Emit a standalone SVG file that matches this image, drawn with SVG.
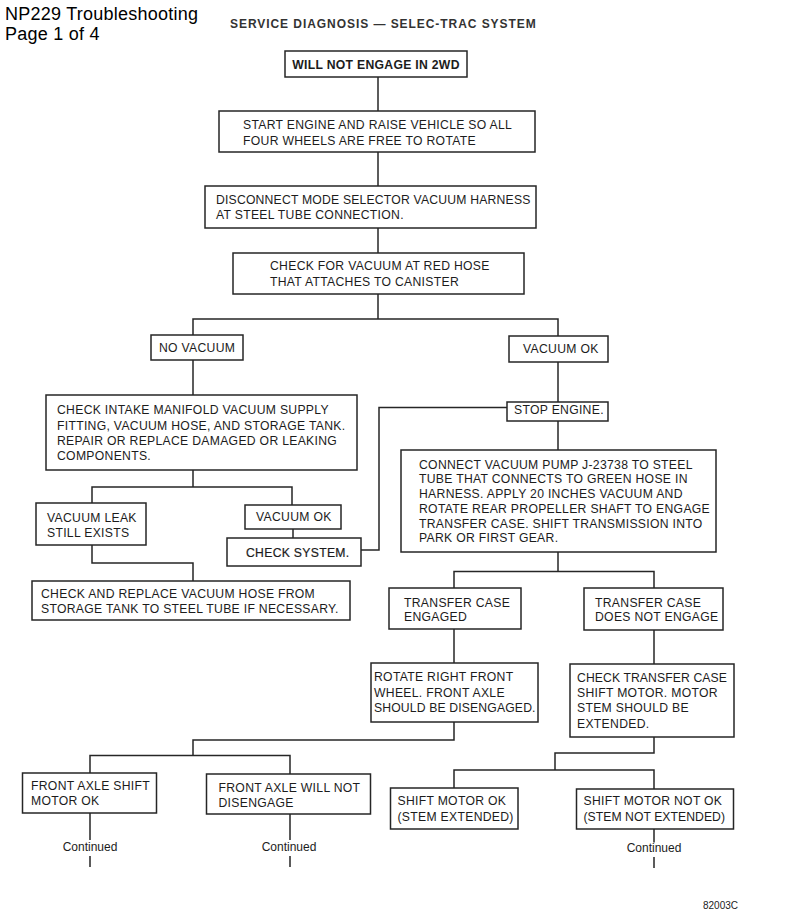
<svg xmlns="http://www.w3.org/2000/svg" width="787" height="915" viewBox="0 0 787 915">
<style>
.bg{fill:#fff}
.box{fill:#fff;stroke:#262626;stroke-width:1.5}
.t{font-family:"Liberation Sans",Arial,Helvetica,sans-serif;font-size:12.2px;fill:#1c1c1c;letter-spacing:0.3px}
.b{font-weight:bold}
.hd{font-family:"Liberation Sans",Arial,Helvetica,sans-serif;font-size:18px;fill:#000;letter-spacing:0.25px}
.cn{font-family:"Liberation Sans",Arial,Helvetica,sans-serif;font-size:12px;fill:#1c1c1c;text-anchor:middle}
.c path{fill:none;stroke:#262626;stroke-width:1.5}
</style>
<rect class="bg" x="0" y="0" width="787" height="915"/>
<text class="hd" x="5" y="20">NP229 Troubleshooting</text>
<text class="hd" x="5" y="40.3">Page 1 of 4</text>
<text class="t b" x="230" y="28" textLength="306" lengthAdjust="spacing" style="font-size:12px;fill:#333">SERVICE DIAGNOSIS — SELEC-TRAC SYSTEM</text>

<g id="connectors" class="c">
<path d="M378,77 V111"/>
<path d="M378,152 V186"/>
<path d="M378,228 V253"/>
<path d="M378,294 V319"/>
<path d="M193,335 V319 H558 V336"/>
<path d="M558,362 V402"/>
<path d="M558,421 V450"/>
<path d="M193,360 V395"/>
<path d="M193,470 V487"/>
<path d="M92,503 V487 H292 V505"/>
<path d="M293,529 V538"/>
<path d="M361,550 H379 V407.5 H507"/>
<path d="M92,545 V563 H193 V581"/>
<path d="M558,552 V571.5"/>
<path d="M454,588 V571.5 H654 V588"/>
<path d="M454,629 V663"/>
<path d="M654,630 V664"/>
<path d="M454,722 V740 H193 V755.5"/>
<path d="M90,773 V755.5 H290 V774"/>
<path d="M654,737 V753 H555 V770"/>
<path d="M454,788 V770 H654 V789"/>
<path d="M90,813 V840 M90,856 V867"/>
<path d="M290,814 V840 M290,856 V867"/>
<path d="M654,829 V842.5 M654,857 V868"/>
</g>

<g id="n1"><rect class="box" x="285" y="51" width="182" height="26"/><text class="t b" x="376" y="68.5" text-anchor="middle">WILL NOT ENGAGE IN 2WD</text></g>
<g id="n2"><rect class="box" x="219" y="111" width="316" height="41"/><text class="t" x="243" y="128.5">START ENGINE AND RAISE VEHICLE SO ALL</text><text class="t" x="243" y="144.5">FOUR WHEELS ARE FREE TO ROTATE</text></g>
<g id="n3"><rect class="box" x="205" y="186" width="331" height="42"/><text class="t" x="216" y="204" style="letter-spacing:0.2px">DISCONNECT MODE SELECTOR VACUUM HARNESS</text><text class="t" x="216" y="218.5">AT STEEL TUBE CONNECTION.</text></g>
<g id="n4"><rect class="box" x="233" y="253" width="291" height="41"/><text class="t" x="270" y="270">CHECK FOR VACUUM AT RED HOSE</text><text class="t" x="270" y="286">THAT ATTACHES TO CANISTER</text></g>
<g id="n5"><rect class="box" x="151" y="335" width="92" height="25"/><text class="t" x="159" y="352">NO VACUUM</text></g>
<g id="n6"><rect class="box" x="509" y="336" width="99" height="26"/><text class="t" x="523" y="353">VACUUM OK</text></g>
<g id="n7"><rect class="box" x="46" y="395" width="311" height="75"/><text class="t" x="57" y="414">CHECK INTAKE MANIFOLD VACUUM SUPPLY</text><text class="t" x="57" y="429.5">FITTING, VACUUM HOSE, AND STORAGE TANK.</text><text class="t" x="57" y="444.5">REPAIR OR REPLACE DAMAGED OR LEAKING</text><text class="t" x="57" y="459.5">COMPONENTS.</text></g>
<g id="n8"><rect class="box" x="507" y="402" width="101" height="19"/><text class="t" x="514" y="414">STOP ENGINE.</text></g>
<g id="n9"><rect class="box" x="401" y="450" width="315" height="102"/><text class="t" x="419" y="468.5">CONNECT VACUUM PUMP J-23738 TO STEEL</text><text class="t" x="419" y="483">TUBE THAT CONNECTS TO GREEN HOSE IN</text><text class="t" x="419" y="497.7">HARNESS. APPLY 20 INCHES VACUUM AND</text><text class="t" x="419" y="513">ROTATE REAR PROPELLER SHAFT TO ENGAGE</text><text class="t" x="419" y="527.7">TRANSFER CASE. SHIFT TRANSMISSION INTO</text><text class="t" x="419" y="542">PARK OR FIRST GEAR.</text></g>
<g id="n10"><rect class="box" x="36" y="503" width="110" height="42"/><text class="t" x="47" y="521.7">VACUUM LEAK</text><text class="t" x="47" y="536.5">STILL EXISTS</text></g>
<g id="n11"><rect class="box" x="245" y="505" width="96" height="24"/><text class="t" x="256" y="521">VACUUM OK</text></g>
<g id="n12"><rect class="box" x="227" y="538" width="134" height="28"/><text class="t" x="246" y="557" style="stroke:#1c1c1c;stroke-width:0.2">CHECK SYSTEM.</text></g>
<g id="n13"><rect class="box" x="32" y="581" width="318" height="39"/><text class="t" x="41" y="597.5">CHECK AND REPLACE VACUUM HOSE FROM</text><text class="t" x="41" y="612.5">STORAGE TANK TO STEEL TUBE IF NECESSARY.</text></g>
<g id="n14"><rect class="box" x="389" y="588" width="132" height="41"/><text class="t" x="404" y="606.7">TRANSFER CASE</text><text class="t" x="404" y="620.7">ENGAGED</text></g>
<g id="n15"><rect class="box" x="584" y="588" width="139" height="42"/><text class="t" x="595" y="606.7">TRANSFER CASE</text><text class="t" x="595" y="621">DOES NOT ENGAGE</text></g>
<g id="n16"><rect class="box" x="371" y="663" width="167" height="59"/><text class="t" x="374" y="681">ROTATE RIGHT FRONT</text><text class="t" x="374" y="696.7">WHEEL. FRONT AXLE</text><text class="t" x="374" y="711.7" style="letter-spacing:0.15px">SHOULD BE DISENGAGED.</text></g>
<g id="n17"><rect class="box" x="570" y="664" width="164" height="73"/><text class="t" x="577" y="681.7" style="letter-spacing:0.1px">CHECK TRANSFER CASE</text><text class="t" x="577" y="697.3">SHIFT MOTOR. MOTOR</text><text class="t" x="577" y="712.3">STEM SHOULD BE</text><text class="t" x="577" y="727.7">EXTENDED.</text></g>
<g id="n18"><rect class="box" x="22.5" y="773" width="134" height="40"/><text class="t" x="31" y="790">FRONT AXLE SHIFT</text><text class="t" x="31" y="805">MOTOR OK</text></g>
<g id="n19"><rect class="box" x="206.5" y="774" width="164" height="40"/><text class="t" x="218.5" y="791.7">FRONT AXLE WILL NOT</text><text class="t" x="218.5" y="806.7">DISENGAGE</text></g>
<g id="n20"><rect class="box" x="390.5" y="788" width="127.5" height="41"/><text class="t" x="397.5" y="805">SHIFT MOTOR OK</text><text class="t" x="397.5" y="820.7">(STEM EXTENDED)</text></g>
<g id="n21"><rect class="box" x="576.5" y="789" width="157" height="40"/><text class="t" x="583.5" y="805">SHIFT MOTOR NOT OK</text><text class="t" x="583.5" y="820.7" style="letter-spacing:0.05px">(STEM NOT EXTENDED)</text></g>

<text class="cn" x="90" y="851">Continued</text>
<text class="cn" x="289" y="851">Continued</text>
<text class="cn" x="654" y="851.5">Continued</text>
<text class="t" x="703" y="909" style="font-size:10px;letter-spacing:0">82003C</text>
</svg>
